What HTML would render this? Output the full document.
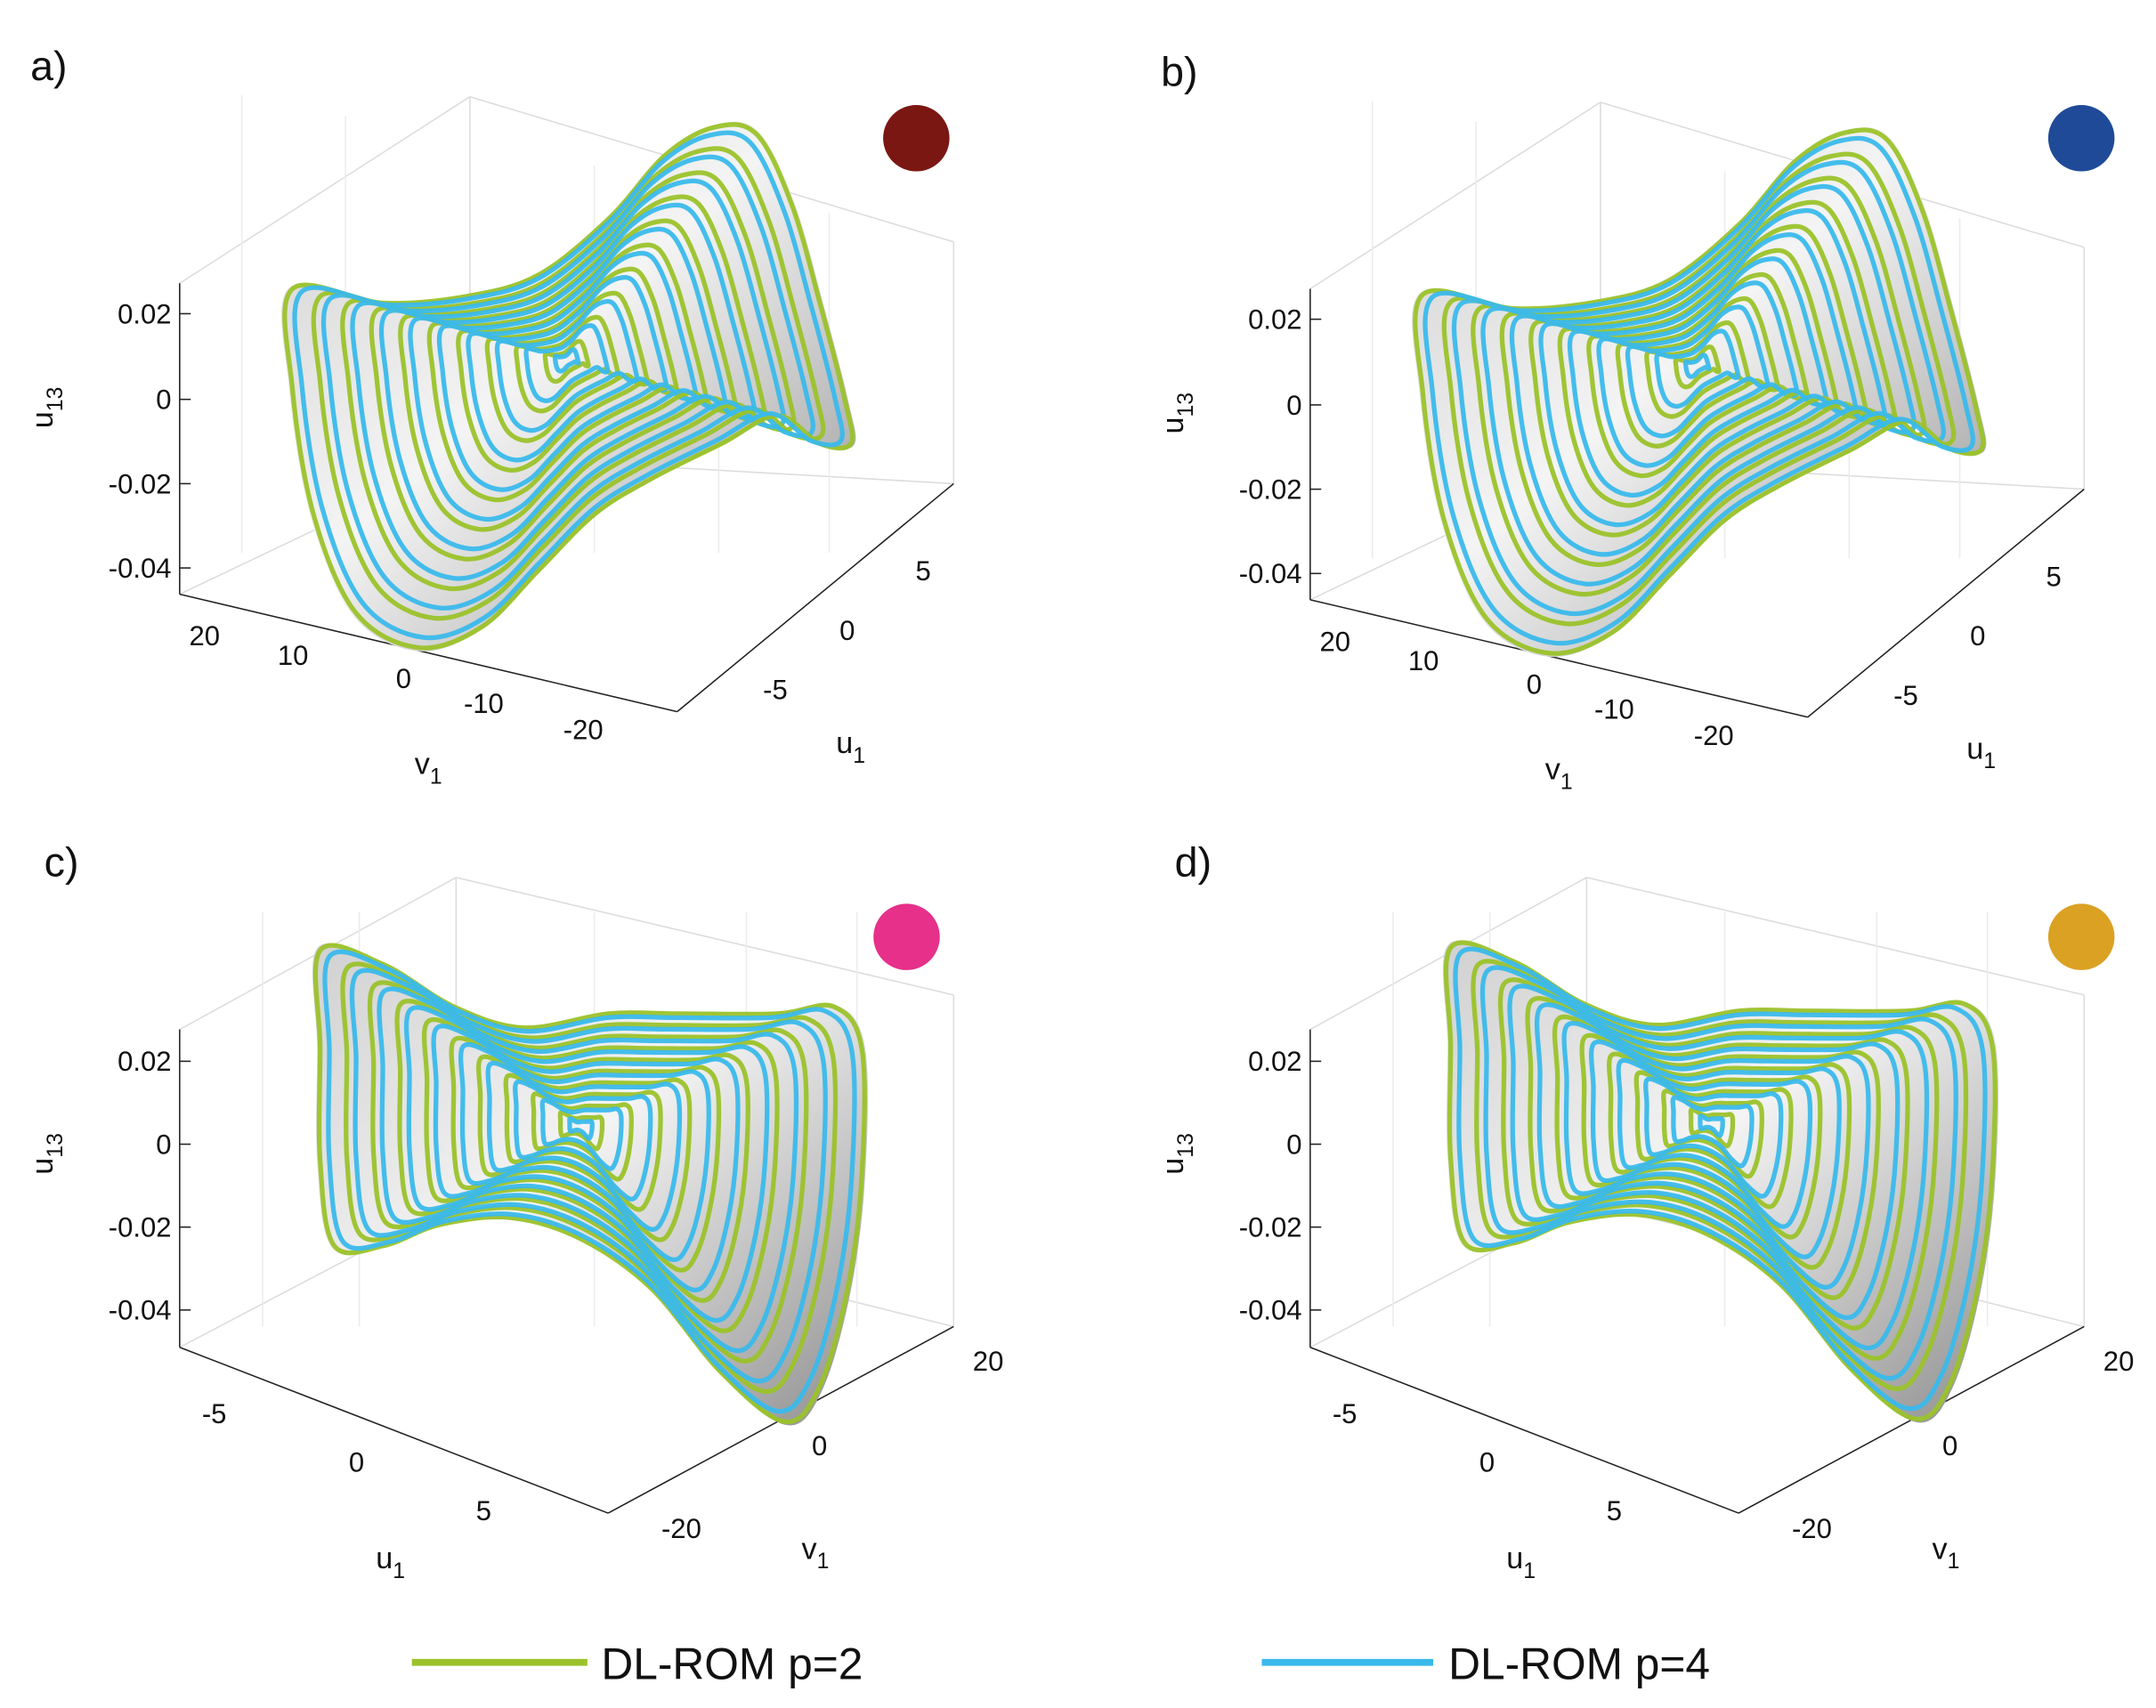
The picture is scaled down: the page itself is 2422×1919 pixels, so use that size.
<!DOCTYPE html>
<html><head><meta charset="utf-8">
<style>html,body{margin:0;padding:0;background:#fff;}svg{display:block}</style>
</head><body>
<svg id="s" width="2422" height="1919" viewBox="0 0 1560 1236" xmlns="http://www.w3.org/2000/svg" font-family="Liberation Sans, sans-serif">
<defs>
<linearGradient id="gr" x1="0" y1="0" x2="1" y2="1">
<stop offset="0" stop-color="#d0d0d0"/><stop offset="0.45" stop-color="#f4f4f4"/><stop offset="1" stop-color="#8f8f8f"/>
</linearGradient>
</defs>
<g id="g"></g>
</svg>
<script>
const NS="http://www.w3.org/2000/svg",G=document.getElementById('g');
function el(t,a,txt){const e=document.createElementNS(NS,t);for(const k in a)e.setAttribute(k,a[k]);if(txt!==undefined)e.textContent=txt;G.appendChild(e);return e;}
function line(x1,y1,x2,y2,c,w){el('line',{x1,y1,x2,y2,stroke:c||'#222',"stroke-width":w||1});}
function txt(x,y,s,size,anchor){el('text',{x,y,"font-size":size||20,"text-anchor":anchor||'middle',fill:'#111'},s);}
function sub(x,y,b,sb){const t=el('text',{x,y,"font-size":22,fill:'#111'});t.innerHTML=b+'<tspan dy="7" font-size="16">'+sb+'</tspan>';return t;}
function cr(pts){let d='M'+pts[0][0]+','+pts[0][1];const n=pts.length;
for(let i=0;i<n;i++){const p0=pts[(i-1+n)%n],p1=pts[i],p2=pts[(i+1)%n],p3=pts[(i+2)%n];
d+=' C'+(p1[0]+(p2[0]-p0[0])/6)+','+(p1[1]+(p2[1]-p0[1])/6)+' '+(p2[0]-(p3[0]-p1[0])/6)+','+(p2[1]-(p3[1]-p1[1])/6)+' '+p2[0]+','+p2[1];}
return d+'Z';}
function surf(B,c,dx,dy){const P=B.map(p=>[p[0]+dx,p[1]+dy]),C=[c[0]+dx,c[1]+dy];
el('path',{d:cr(P.map(p=>[C[0]+1.03*(p[0]-C[0]),C[1]+1.03*(p[1]-C[1])])),fill:'url(#gr)',stroke:'none'});
const N=10;
for(let k=1;k<=N;k++){const s=0.06+0.94*(k-1)/(N-1);
for(const [col,o] of [['#9bc22a',0.018],['#3ab9eb',-0.018]]){
const ss=Math.max(0.04,s+o);
el('path',{d:cr(P.map(p=>[C[0]+ss*(p[0]-C[0]),C[1]+ss*(p[1]-C[1])])),fill:'none',stroke:col,"stroke-width":3.4,opacity:0.95});}}}
const BA=[[215,210],[280,220],[340,215],[390,200],[440,160],[480,115],[515,95],[545,100],[570,150],[590,220],[608,290],[612,320],[590,320],[560,300],[520,320],[470,345],[430,370],[390,410],[350,450],[305,465],[260,440],[230,370],[215,280]];
const BC=[[235,690],[280,700],[330,730],[380,745],[440,735],[490,735],[560,735],[600,730],[620,760],[620,850],[610,930],[590,1000],[565,1025],[520,990],[470,930],[420,895],[370,880],[320,885],[280,900],[245,900],[235,840],[235,760]];
function topAxes(dx,dy,L){
const gc='#dcdcdc';
line(130+dx,205+dy,340+dx,70+dy,gc);line(340+dx,70+dy,340+dx,330+dy,gc);line(340+dx,70+dy,690+dx,175+dy,gc);line(690+dx,175+dy,690+dx,350+dy,gc);
line(130+dx,205+dy,130+dx,430+dy,gc);line(340+dx,330+dy,690+dx,350+dy,gc);line(130+dx,430+dy,340+dx,330+dy,gc);
for(const x of [175,250,430,520,600])line(x+dx,60+dy+(x-130)*0.2,x+dx,400+dy,'#ececec');
line(130+dx,205+dy,130+dx,430+dy);line(130+dx,430+dy,490+dx,515+dy);line(490+dx,515+dy,690+dx,350+dy);
[[0.02,227],[0,289],[-0.02,350],[-0.04,411]].forEach(([v,y])=>{line(130+dx,y+dy,138+dx,y+dy);txt(124+dx,y+7+dy,String(v),20,'end');});
[['20',148,467],['10',212,481],['0',292,498],['-10',350,516],['-20',422,535]].forEach(([s,x,y])=>{txt(x+dx,y+dy,s);});
[['5',668,420],['0',613,463],['-5',561,506]].forEach(([s,x,y])=>txt(x+dx,y+dy,s));
sub(300+dx,560+dy,'v','1');sub(605+dx,545+dy,'u','1');
const t=el('text',{transform:'translate('+(38+dx)+','+(310+dy)+') rotate(-90)',"font-size":22,fill:'#111'});t.innerHTML='u<tspan dy="7" font-size="16">13</tspan>';
txt(22+dx,58+dy,L,30,'start');}
function botAxes(dx,dy,L){
const gc='#dcdcdc';
line(130+dx,745+dy,330+dx,635+dy,gc);line(330+dx,635+dy,690+dx,720+dy,gc);line(330+dx,635+dy,330+dx,870+dy,gc);line(690+dx,720+dy,690+dx,960+dy,gc);
line(130+dx,975+dy,330+dx,870+dy,gc);line(330+dx,870+dy,690+dx,960+dy,gc);
for(const x of [190,260,430,540,620])line(x+dx,660+dy,x+dx,960+dy,'#ececec');
line(130+dx,745+dy,130+dx,975+dy);line(130+dx,975+dy,440+dx,1095+dy);line(440+dx,1095+dy,690+dx,960+dy);
[[0.02,768],[0,828],[-0.02,888],[-0.04,948]].forEach(([v,y])=>{line(130+dx,y+dy,138+dx,y+dy);txt(124+dx,y+7+dy,String(v),20,'end');});
[['-5',155,1030],['0',258,1065],['5',350,1100]].forEach(([s,x,y])=>txt(x+dx,y+dy,s));
[['20',715,992],['0',593,1053],['-20',493,1113]].forEach(([s,x,y])=>txt(x+dx,y+dy,s));
sub(272+dx,1135+dy,'u','1');sub(580+dx,1128+dy,'v','1');
const t=el('text',{transform:'translate('+(38+dx)+','+(850+dy)+') rotate(-90)',"font-size":22,fill:'#111'});t.innerHTML='u<tspan dy="7" font-size="16">13</tspan>';
txt(32+dx,634+dy,L,30,'start');}
topAxes(0,0,'a)');topAxes(818,4,'b)');botAxes(0,0,'c)');botAxes(818,0,'d)');
surf(BA,[410,260],0,0);surf(BA,[410,260],818,4);surf(BC,[420,815],0,0);surf(BC,[420,815],818,-2);
el('circle',{cx:663,cy:100,r:24,fill:'#7b1713'});el('circle',{cx:1506,cy:100,r:24,fill:'#1f4a98'});
el('circle',{cx:656,cy:678,r:24,fill:'#e6308a'});el('circle',{cx:1506,cy:678,r:24,fill:'#dba123'});
line(298,1203,425,1203,'#9bc22a',5);txt(435,1215,'DL-ROM p=2',32,'start');
line(913,1203,1037,1203,'#3ab9eb',5);txt(1048,1215,'DL-ROM p=4',32,'start');
</script>
</body></html>
